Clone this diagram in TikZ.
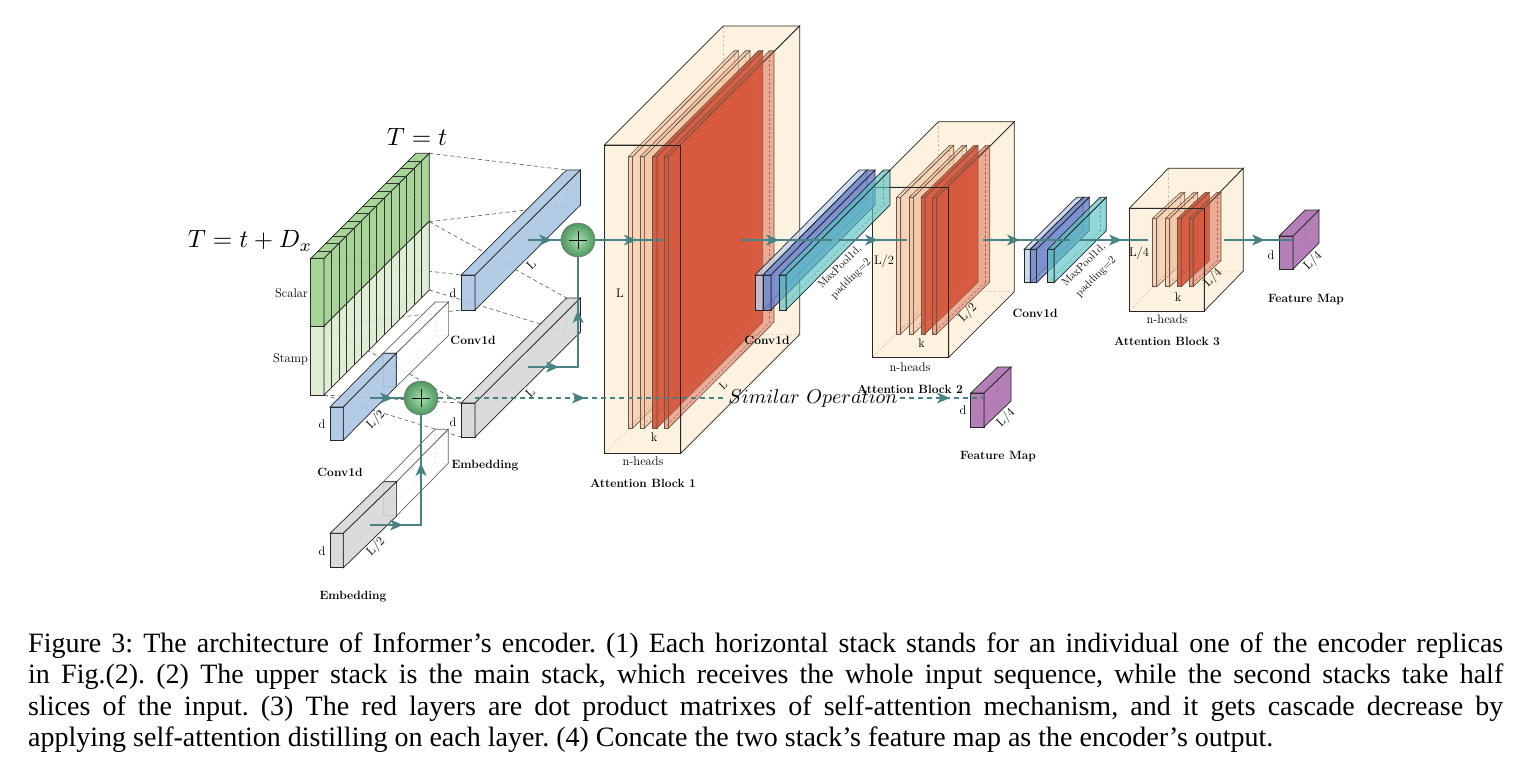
\documentclass[tikz,border=0pt]{standalone}
\usepackage{graphicx}
\usepackage{fontspec}
\newfontfamily\capfont{Liberation Serif}
\definecolor{gA}{RGB}{158,208,140}
\definecolor{gB}{RGB}{218,237,208}
\definecolor{convc}{RGB}{172,198,228}
\definecolor{embc}{RGB}{216,216,216}
\definecolor{attc}{RGB}{252,236,206}
\definecolor{peach}{RGB}{243,192,160}
\definecolor{redp}{RGB}{214,86,60}
\definecolor{convl}{RGB}{192,210,236}
\definecolor{convd}{RGB}{104,128,202}
\definecolor{poolc}{RGB}{88,196,196}
\definecolor{featc}{RGB}{172,112,176}
\definecolor{arrc}{RGB}{72,130,130}
\definecolor{ballin}{RGB}{168,224,176}
\definecolor{ballout}{RGB}{78,150,96}
\definecolor{pedge}{RGB}{105,85,65}
\tikzset{
 bedge/.style={draw=black!85, line width=0.7pt},
 hid/.style={draw=black!55, dash pattern=on 2.5pt off 2pt, line width=0.5pt},
 proj/.style={draw=black!65, dash pattern=on 4pt off 3pt, line width=0.6pt},
 sl/.style={draw=black!80, line width=0.5pt},
 conn/.style={draw=arrc, line width=1.6pt},
 dconn/.style={draw=arrc, line width=1.6pt, dash pattern=on 5pt off 4pt},
 lab/.style={font=\fontsize{12.5}{14}\selectfont, inner sep=0pt},
 smlab/.style={font=\fontsize{11}{13}\selectfont, inner sep=0pt},
 boldlab/.style={font=\fontsize{12}{14}\selectfont\bfseries, inner sep=0pt},
 biglab/.style={inner sep=0pt},
 capline/.style={font=\capfont\fontsize{28}{31}\selectfont\frenchspacing, inner sep=0pt, anchor=base west},
 adder/.style={circle, minimum size=34pt, inner sep=0pt, inner color=ballin, outer color=ballout, draw=black!55, line width=0.5pt},
 plane/.style={draw=pedge, line width=0.6pt},
}
% #1 style, #2 x, #3 y, #4 w, #5 h, #6 dx, #7 dy, #8 fill, #9 opacity
\newcommand{\cuboidbox}[9][]{%
 \begin{scope}[shift={(#2,#3)}]
  \draw[hid] (0,#5) -- ++(#6,#7) -- ++(#4,0);
  \draw[hid] (#6,#7) -- ++(0,#5);
  \filldraw[bedge,fill=#8,fill opacity=#9,#1] (0,0) rectangle (#4,#5);
  \filldraw[bedge,fill=#8,fill opacity=#9,#1] (0,0) -- ++(#6,#7) -- ++(#4,0) -- (#4,0) -- cycle;
  \filldraw[bedge,fill=#8,fill opacity=#9,#1] (#4,0) -- ++(#6,#7) -- ++(0,#5) -- (#4,#5) -- cycle;
 \end{scope}}
\newcommand{\tipR}[2]{\fill[arrc] (#1+7,#2) -- (#1-6,#2-5.5) -- (#1-2.5,#2) -- (#1-6,#2+5.5) -- cycle;}
\newcommand{\tipU}[2]{\fill[arrc] (#1,#2-7) -- (#1-5.5,#2+6) -- (#1,#2+2.5) -- (#1+5.5,#2+6) -- cycle;}
\begin{document}
\begin{tikzpicture}[x=1pt,y=-1pt]
\useasboundingbox (0,0) rectangle (1515,766);
\fill[white] (0,0) rectangle (1515,766);

% ---------- projection lines ----------
\draw[proj] (429.3,153.3) -- (566.7,170);
\draw[proj] (429.3,221.7) -- (566.7,205);
\draw[proj] (324,258.3) -- (461,275);
\draw[proj] (324,326) -- (461,310);
\draw[proj] (429.3,221.7) -- (566.7,298);
\draw[proj] (429.3,290) -- (566.7,332);
\draw[proj] (324,326) -- (461,403);
\draw[proj] (324,395) -- (461,437);
\draw[proj] (324,395) -- (461,403);

% ---------- green input ----------
\draw[hid] (310.7,395) -- (415.7,290) -- (429.3,290);
\draw[hid] (415.7,153.3) -- (415.7,290);
\filldraw[bedge,fill=gB,fill opacity=0.9] (310.7,326) rectangle (324,395);
\filldraw[bedge,fill=gB,fill opacity=0.9] (324,326) -- (429.3,221) -- (429.3,290) -- (324,395) -- cycle;
\filldraw[bedge,fill=gA,fill opacity=0.9] (310.7,258.3) rectangle (324,326);
\filldraw[bedge,fill=gA,fill opacity=0.9] (310.7,258.3) -- (415.7,153.3) -- (429.3,153.3) -- (324,258.3) -- cycle;
\filldraw[bedge,fill=gA,fill opacity=0.9] (324,258.3) -- (429.3,153.3) -- (429.3,221) -- (324,326) -- cycle;
\foreach \i in {1,...,13} {
  \draw[sl] (324+\i*7.5,258.3-\i*7.5) -- ++(0,136.7);
  \draw[sl] (310.7+\i*7.5,258.3-\i*7.5) -- ++(13.3,0);
}

% ---------- lower stack conv (half) ----------
\cuboidbox[draw=black!60]{383}{353.3}{13.3}{33.3}{52.3}{-51.3}{white}{0.85}
\cuboidbox{330}{407}{13.3}{33.3}{53}{-53.7}{convc}{0.9}

% dashed arrow (first part)
\coordinate (p2e) at (438,398); \coordinate (dA) at (461,398);
\draw[dconn] (p2e) -- (dA);

% ---------- upper stack boxes ----------
\cuboidbox{461}{275}{14}{35}{105.5}{-105}{convc}{0.9}
\cuboidbox{461}{403}{14}{34}{105.5}{-105}{embc}{0.9}

% ---------- lower embedding ----------
\cuboidbox[draw=black!60]{383.3}{481.7}{13.3}{34}{51.7}{-52.4}{white}{0.85}
\cuboidbox{330}{533.3}{13.3}{34.5}{53.3}{-51.6}{embc}{0.9}

% ---------- adders ----------
\node[adder] (p1) at (578,240) {};
\node[adder] (p2) at (421,398) {};
\draw[line width=0.9pt] (p1.center) ++(-9,0) -- ++(18,0);
\draw[line width=0.9pt] (p1.center) ++(0,-9) -- ++(0,18);
\draw[line width=0.9pt] (p2.center) ++(-9,0) -- ++(18,0);
\draw[line width=0.9pt] (p2.center) ++(0,-9) -- ++(0,18);

% upper arrows into adder
\coordinate (a1s) at (528,240);
\draw[conn] (a1s) -- (p1.west); \tipR{545}{240}
\coordinate (a2s) at (528,367); \coordinate (a2c) at (578,367);
\draw[conn] (a2s) -- (a2c) -- (p1.south); \tipR{552}{367} \tipU{578}{317}
% lower arrows into adder
\coordinate (l1s) at (370,398);
\draw[conn] (l1s) -- (p2.west); \tipR{386}{398}
\coordinate (l2s) at (370,525); \coordinate (l2c) at (421,525);
\draw[conn] (l2s) -- (l2c) -- (p2.south); \tipR{396}{525} \tipU{421}{470}

% ---------- Attention block 1 ----------
\cuboidbox{604.3}{145}{76.4}{308.3}{119}{-119}{attc}{0.65}
\cuboidbox[plane]{628.3}{156.7}{4.3}{271.6}{105.7}{-106}{peach}{0.6}
\cuboidbox[plane]{640}{156.7}{4.3}{271.6}{105.7}{-106}{peach}{0.6}
\cuboidbox[plane]{652.7}{156.7}{4.3}{271.6}{105.7}{-106}{redp}{0.92}
\cuboidbox[plane]{664}{156.7}{4.3}{271.6}{105.7}{-106}{redp}{0.45}
\draw[bedge] (604.3,145) rectangle ++(76.4,308.3);

% ---------- Attention block 2 ----------
\cuboidbox{872.7}{187.3}{76}{170}{65.6}{-65.6}{attc}{0.65}
\cuboidbox[plane]{896.7}{197.3}{4}{136.7}{53}{-52}{peach}{0.6}
\cuboidbox[plane]{909.3}{197.3}{4}{136.7}{53}{-52}{peach}{0.6}
\cuboidbox[plane]{921}{197.3}{4}{136.7}{53}{-52}{redp}{0.92}
\cuboidbox[plane]{932.7}{197.3}{4}{136.7}{53}{-52}{redp}{0.45}
\draw[bedge] (872.7,187.3) rectangle ++(76,170);

% ---------- Attention block 3 ----------
\cuboidbox{1129.3}{208.3}{75}{102.7}{39}{-40}{attc}{0.65}
\cuboidbox[plane]{1152.7}{218.3}{4}{68.4}{28}{-26}{peach}{0.6}
\cuboidbox[plane]{1165.7}{218.3}{4}{68.4}{28}{-26}{peach}{0.6}
\cuboidbox[plane]{1177.3}{218.3}{4}{68.4}{28}{-26}{redp}{0.92}
\cuboidbox[plane]{1189}{218.3}{4}{68.4}{28}{-26}{redp}{0.45}
\draw[bedge] (1129.3,208.3) rectangle ++(75,102.7);

% ---------- conv / pool 1 ----------
\cuboidbox{755}{275}{8}{35}{104}{-105}{convl}{0.8}
\cuboidbox{763}{275}{8}{35}{104}{-105}{convd}{0.8}
\cuboidbox{779.3}{275}{6.7}{35}{104}{-105}{poolc}{0.65}
% ---------- conv / pool 2 ----------
\cuboidbox{1024}{249.3}{6.3}{33.4}{52.7}{-52}{convl}{0.8}
\cuboidbox{1030.3}{249.3}{6.3}{33.4}{52.7}{-52}{convd}{0.8}
\cuboidbox{1047.7}{249.3}{6.3}{33.4}{52.3}{-52}{poolc}{0.65}

% ---------- feature maps ----------
\cuboidbox{970.7}{393}{13.3}{34}{27}{-26}{featc}{0.9}
\cuboidbox{1279}{236}{14}{33}{26}{-26}{featc}{0.9}

% ---------- main flow arrows ----------
\coordinate (m1) at (663,240);
\draw[conn] (p1.east) -- (m1); \tipR{630}{240}
\coordinate (m2a) at (740,240); \coordinate (m2b) at (832,240);
\draw[conn] (m2a) -- (m2b); \tipR{772}{240}
\coordinate (m3a) at (838,240); \coordinate (m3b) at (907,240);
\draw[conn] (m3a) -- (m3b); \tipR{871}{240}
\coordinate (m4a) at (983,240); \coordinate (m4b) at (1070,240);
\draw[conn] (m4a) -- (m4b); \tipR{1013}{240}
\coordinate (m5a) at (1080,240); \coordinate (m5b) at (1148,240);
\draw[conn] (m5a) -- (m5b); \tipR{1115}{240}
\coordinate (m6a) at (1224,240); \coordinate (m6b) at (1293,240);
\draw[conn] (m6a) -- (m6b); \tipR{1258}{240}

% dashed lower flow
\coordinate (dB) at (475,398); \coordinate (dC) at (723,398);
\draw[dconn] (dB) -- (dC); \tipR{578}{398}
\coordinate (dD) at (900,398); \coordinate (dE) at (984,398);
\draw[dconn] (dD) -- (dE); \tipR{943}{398}

% ---------- labels ----------
\node[biglab] (tt1) at (417,137) {\scalebox{2.5}{$T=t$}};
\node[biglab] (tt2) at (250,241) {\scalebox{2.5}{$T=t+D_x$}};
\node[lab,anchor=east] (lsc) at (308,293) {Scalar};
\node[lab,anchor=east] (lst) at (308,359) {Stamp};
\node[lab] (ld1) at (453,293) {d};
\node[lab,rotate=45] (lL1) at (531,265) {L};
\node[lab] (ld2) at (453,422) {d};
\node[lab,rotate=45] (lL2) at (530,393) {L};
\node[boldlab] (lcv1) at (473,340) {Conv1d};
\node[lab] (ld3) at (322,424) {d};
\node[lab,rotate=45] (lL3) at (376,420) {L/2};
\node[boldlab] (lcv2) at (340,472) {Conv1d};
\node[boldlab] (lem1) at (485,466) {Embedding};
\node[lab] (ld4) at (322,551) {d};
\node[lab,rotate=45] (lL4) at (376,547) {L/2};
\node[boldlab] (lem2) at (353,597) {Embedding};

\node[lab] (b1L) at (620,293) {L};
\node[lab] (b1k) at (654,437) {k};
\node[lab] (b1n) at (643,461) {n-heads};
\node[boldlab] (b1c) at (643,483) {Attention Block 1};
\node[smlab,rotate=45] (b1d) at (723,385) {L};
\node[boldlab] (c1c) at (767,340) {Conv1d};
\node[smlab,rotate=45] (c1m) at (840,267) {MaxPool1d,};
\node[smlab,rotate=45] (c1p) at (851,279) {padding=2};
\node[lab] (b2L) at (884,261) {L/2};
\node[lab] (b2k) at (921.7,343) {k};
\node[lab] (b2n) at (910,367) {n-heads};
\node[boldlab] (b2c) at (910,389) {Attention Block 2};
\node[lab,rotate=45] (b2d) at (968,313) {L/2};
\node[boldlab] (c2c) at (1035,313) {Conv1d};
\node[smlab,rotate=45] (c2m) at (1084,265) {MaxPool1d,};
\node[smlab,rotate=45] (c2p) at (1096,277) {padding=2};
\node[lab] (b3L) at (1139,253) {L/4};
\node[lab] (b3k) at (1178,297) {k};
\node[lab] (b3n) at (1167,319) {n-heads};
\node[boldlab] (b3c) at (1167,341) {Attention Block 3};
\node[lab,rotate=45] (b3d) at (1213,278) {L/4};
\node[lab] (f2d) at (963,410) {d};
\node[lab,rotate=45] (f2l) at (1006,418) {L/4};
\node[boldlab] (f2c) at (998,457) {Feature Map};
\node[lab] (f3d) at (1271,255) {d};
\node[lab,rotate=45] (f3l) at (1313,261) {L/4};
\node[boldlab] (f3c) at (1306,300) {Feature Map};
\node[inner sep=0pt] (sim) at (813,398) {\scalebox{2}{$Similar\ Operation$}};

% ---------- caption ----------
\node[capline] (cap1) at (28,652) {\makebox[1475pt][s]{Figure 3: The architecture of Informer’s encoder. (1) Each horizontal stack stands for an individual one of the encoder replicas}};
\node[capline] (cap2) at (28,683.5) {\makebox[1475pt][s]{in Fig.(2). (2) The upper stack is the main stack, which receives the whole input sequence, while the second stacks take half}};
\node[capline] (cap3) at (28,715) {\makebox[1475pt][s]{slices of the input. (3) The red layers are dot product matrixes of self-attention mechanism, and it gets cascade decrease by}};
\node[capline] (cap4) at (28,746) {applying self-attention distilling on each layer. (4) Concate the two stack’s feature map as the encoder’s output.};
\end{tikzpicture}
\end{document}
